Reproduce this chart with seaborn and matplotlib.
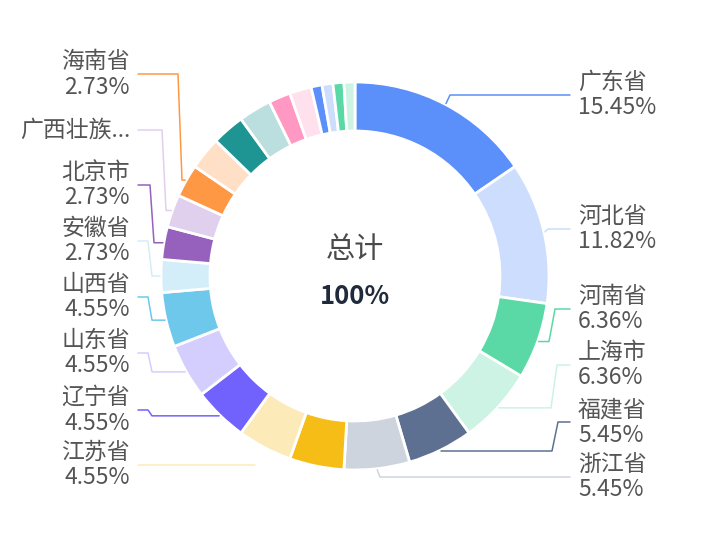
import matplotlib
matplotlib.use("Agg")
import matplotlib.pyplot as plt
import seaborn as sns
import numpy as np

# ---------------- data ----------------
names = ["广东省", "河北省", "河南省", "上海市", "福建省", "浙江省", "湖北省",
         "江苏省", "辽宁省", "山东省", "山西省", "安徽省", "北京市", "广西壮族自治区",
         "海南省", "四川省", "湖南省", "天津市", "重庆市", "江西省",
         "陕西省", "云南省", "贵州省", "吉林省"]
counts = [17, 13, 7, 7, 6, 6, 5, 5, 5, 5, 5, 3, 3, 3, 3, 3, 3, 3, 2, 2, 1, 1, 1, 1]
palette = ["#5B8FF9", "#CDDDFD", "#5AD8A6", "#CDF3E4", "#5D7092", "#CED4DE",
           "#F6BD16", "#FCEBB9", "#7262FD", "#D3CEFD", "#6DC8EC", "#D3EEF9",
           "#9661BC", "#E0D0EE", "#FF9845", "#FFE0C7", "#1E9493", "#BBDEDE",
           "#FF99C3", "#FFE0ED", "#5B8FF9", "#CDDDFD", "#5AD8A6", "#CDF3E4"]
center_title = "总计"
center_value = "100%"

# labels shown: name -> (side, label mid y [px from top], elbow x [px], connect)
label_layout = {
    "广东省": ("R", 95, 450, True), "河北省": ("R", 229, 548, True),
    "河南省": ("R", 309, 555, True), "上海市": ("R", 365, 557, True),
    "福建省": ("R", 422, 558, True), "浙江省": ("R", 477, 380, True),
    "海南省": ("L", 74, 178, True), "广西壮族自治区": ("L", 130, 162, True),
    "北京市": ("L", 185, 150, True), "安徽省": ("L", 241, 148, True),
    "山西省": ("L", 297, 148, True), "山东省": ("L", 353, 148, True),
    "辽宁省": ("L", 410, 148, True), "江苏省": ("L", 465, 255, False),
}

# ---------------- style ----------------
sns.set_theme(style="white")
plt.rcParams["font.family"] = ["Noto Sans CJK SC", "DejaVu Sans"]

W, H = 716, 552
fig = plt.figure(figsize=(W / 100, H / 100), dpi=100)
fig.patch.set_facecolor("white")
ax = fig.add_axes([0, 0, 1, 1])

cx, cy = 355, 276
r_out, ring = 194, 49

def Y(y):
    return H - y

total = sum(counts)
wedges, _ = ax.pie(counts, colors=palette, startangle=90, counterclock=False,
                   radius=r_out, center=(cx, Y(cy)),
                   wedgeprops=dict(width=ring, edgecolor="white", linewidth=2))
ax.set_xlim(0, W)
ax.set_ylim(0, H)
ax.set_aspect("equal")
ax.axis("off")

text_color = "#555555"
fs = 16.5
for w, name, cnt, col in zip(wedges, names, counts, palette):
    if name not in label_layout:
        continue
    side, ly, ex, connect = label_layout[name]
    mid = np.deg2rad((w.theta1 + w.theta2) / 2)
    axp = cx + (r_out + 1) * np.cos(mid)
    ayp = cy - (r_out + 1) * np.sin(mid)
    if side == "R":
        if ex - 6 > axp + 2:
            pts = [(axp, ayp), (ex - 6, ayp), (ex, ly), (570, ly)]
        else:
            pts = [(axp, ayp), (ex, ly), (570, ly)]
        tx, ha = 578, "left"
    else:
        pts = [(138, ly), (ex, ly), (ex + 4, ayp), (axp, ayp)]
        if not connect or ex + 4 >= axp:
            pts = [(138, ly), (ex, ly)]
        tx, ha = 130, "right"
    xs = [p[0] for p in pts]
    ys = [Y(p[1]) for p in pts]
    ax.plot(xs, ys, color=col, lw=1.1, solid_joinstyle="round", zorder=1)
    pct = f"{cnt / total * 100:.2f}%"
    if len(name) > 4:
        ax.text(tx, Y(ly), name[:4] + "...", ha=ha, va="center",
                fontsize=fs, color=text_color, fontweight="light")
    else:
        ax.text(tx, Y(ly - 12.5), name, ha=ha, va="center",
                fontsize=fs, color=text_color, fontweight="light")
        ax.text(tx, Y(ly + 13), pct, ha=ha, va="center",
                fontsize=fs, color=text_color, fontweight="light")

ax.text(cx, Y(250), center_title, ha="center", va="center",
        fontsize=21, color="#4a4a4a", fontweight="light")
ax.text(cx, Y(297), center_value, ha="center", va="center",
        fontsize=18.5, color="#1f2a3c", fontweight="bold")

fig.savefig("out.png", dpi=100, facecolor="white")
